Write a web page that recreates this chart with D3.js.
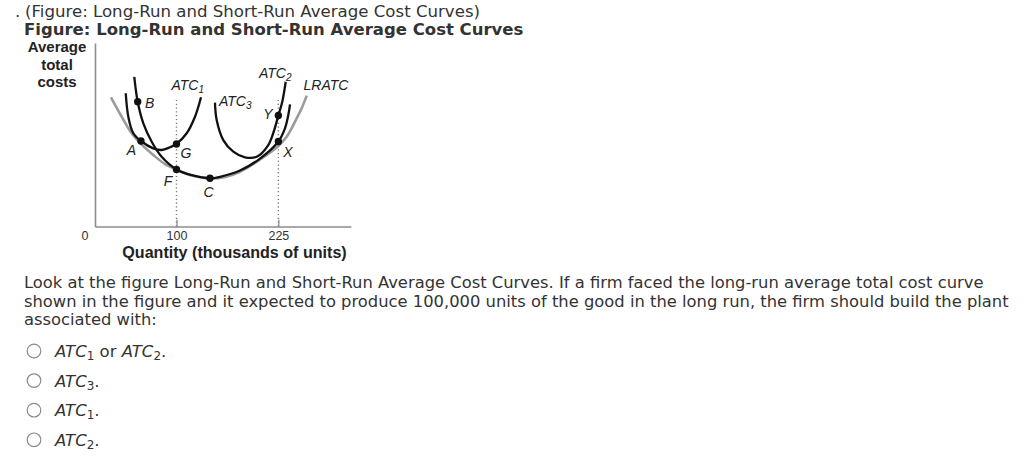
<!DOCTYPE html>
<html>
<head>
<meta charset="utf-8">
<script src="https://cdn.jsdelivr.net/npm/d3@7"></script>
<style>
  body { margin: 0; background: #fff; }
  .page { font-family: "DejaVu Sans", Verdana, sans-serif; }
  .fig { font-family: "Liberation Sans", Arial, sans-serif; }
</style>
</head>
<body>
<div class="chart"></div>
<script>
// quantity in thousands of units, cost in chart units (top of y axis = 100)
let lratcQty  = [19.6, 32.8, 45.0, 56.4, 71.5, 85.9, 100, 118.7, 141, 160, 177.9, 202.5, 225, 235.2, 241.3, 247.5, 253.6, 259.8];
let lratcCost = [70.4, 59.8, 50.8, 45.0, 39.0, 34.0, 31.0, 27.8, 26.2, 27.0, 29.8, 36.5, 43.9, 48.9, 53.5, 59.0, 64.4, 71.3];

let atc1Qty  = [37.7, 40.9, 47.0, 56.4, 71.5, 81.8, 92.0, 100, 112.5, 122.7, 130.1];
let atc1Cost = [72.6, 59.8, 50.8, 46.6, 42.6, 41.7, 43.2, 45.0, 50.8, 59.8, 70.4];

let atc2Qty  = [48.2, 52.4, 59.3, 69.6, 81.8, 100, 118.7, 141.1, 153.4, 177.9, 202.5, 225, 233.1, 237.2, 239.3];
let atc2Cost = [81.6, 68.0, 56.2, 46.2, 38.0, 31.1, 28.0, 26.3, 27.1, 30.5, 37.0, 46.3, 53.5, 60.8, 66.6];

let atc3Qty  = [147.2, 149.3, 157.4, 169.7, 184.0, 198.4, 212.6, 219.3, 225, 229.8, 234.0];
let atc3Cost = [67.5, 58.0, 47.1, 40.8, 37.7, 38.0, 44.4, 51.7, 60.5, 68.0, 78.9];

let pointNames = ["A", "B", "G", "F", "C", "X", "Y"];
let pointQty   = [56.4, 52.4, 100, 100, 141.1, 225, 225];
let pointCost  = [46.6, 68.0, 45.0, 31.1, 26.3, 46.3, 60.5];

let tickValues = [100, 225];
let guideTop = [70.4, 69.3];

let yLabelLines = ["Average", "total", "costs"];
let xLabel = "Quantity (thousands of units)";

let headLine = "(Figure: Long-Run and Short-Run Average Cost Curves)";
let figTitle = "Figure: Long-Run and Short-Run Average Cost Curves";
let questionLines = [
  "Look at the figure Long-Run and Short-Run Average Cost Curves. If a firm faced the long-run average total cost curve",
  "shown in the figure and it expected to produce 100,000 units of the good in the long run, the firm should build the plant",
  "associated with:"
];
let options = ["ATC1 or ATC2.", "ATC3.", "ATC1.", "ATC2."];

let svgWidth = 1024;
let svgHeight = 462;

let svg = d3.select(".chart")
  .append("svg")
  .attr("width", svgWidth)
  .attr("height", svgHeight);

// header text
let page = svg.append("g").attr("class", "page").attr("fill", "#333");
page.append("text").attr("x", 15).attr("y", 17).attr("font-size", 16.5).text(".");
page.append("text").attr("x", 25).attr("y", 17).attr("font-size", 16.6).text(headLine);
page.append("text").attr("x", 24).attr("y", 35).attr("font-size", 16.5)
  .attr("font-weight", "bold").text(figTitle);

// chart
let xScale = d3.scaleLinear().domain([0, 314]).range([95, 350.9]);
let yScale = d3.scaleLinear().domain([0, 100]).range([226.5, 43]);

let fig = svg.append("g").attr("class", "fig");

let xAxis = fig.append("g")
  .attr("transform", `translate(0, ${yScale(0)})`)
  .call(d3.axisBottom(xScale).tickValues(tickValues).tickSize(-7).tickSizeOuter(0).tickPadding(4.5));
let yAxis = fig.append("g")
  .attr("transform", `translate(${xScale(0)}, 0)`)
  .call(d3.axisLeft(yScale).tickValues([]).tickSizeOuter(0));

[xAxis, yAxis].forEach(function(ax) {
  ax.attr("font-family", null).attr("font-size", null);
  ax.select(".domain").attr("stroke", "#8c8c8c").attr("stroke-width", 1.6);
  ax.selectAll(".tick line").attr("stroke", "#8c8c8c").attr("stroke-width", 1.2);
  ax.selectAll(".tick text").attr("fill", "#333").attr("font-size", 12.5);
});

fig.append("text")
  .attr("x", xScale(0) - 10).attr("y", 240)
  .attr("text-anchor", "middle").attr("font-size", 12.5).attr("fill", "#333")
  .text("0");

// dotted guides
fig.selectAll(".guide")
  .data(tickValues)
  .enter()
  .append("line")
  .attr("class", "guide")
  .attr("x1", d => xScale(d)).attr("x2", d => xScale(d))
  .attr("y1", yScale(0)).attr("y2", (d, i) => yScale(guideTop[i]))
  .attr("stroke", "#7a7a7a").attr("stroke-width", 1.4)
  .attr("stroke-dasharray", "1.2,2.6");

let line = d3.line()
  .x(d => xScale(d[0]))
  .y(d => yScale(d[1]))
  .curve(d3.curveCatmullRom.alpha(0.5));

fig.append("path")
  .datum(d3.zip(lratcQty, lratcCost))
  .attr("d", line)
  .attr("fill", "none").attr("stroke", "#9b9b9b").attr("stroke-width", 2.6);

[[atc1Qty, atc1Cost], [atc2Qty, atc2Cost], [atc3Qty, atc3Cost]].forEach(function(c) {
  fig.append("path")
    .datum(d3.zip(c[0], c[1]))
    .attr("d", line)
    .attr("fill", "none").attr("stroke", "#111").attr("stroke-width", 2.3);
});

// points
let pts = pointNames.map((n, i) => ({ name: n, q: pointQty[i], c: pointCost[i] }));
fig.selectAll(".pt")
  .data(pts)
  .enter()
  .append("circle")
  .attr("class", "pt")
  .attr("cx", d => xScale(d.q))
  .attr("cy", d => yScale(d.c))
  .attr("r", 3.7)
  .attr("fill", "#111");

// label offsets from each point
let offsets = { A: [-9.5, 14], B: [12, 6], G: [9.5, 14], F: [-8.5, 17], C: [-1.5, 18.5], X: [9.5, 15], Y: [-10.5, 3.5] };
fig.selectAll(".ptlabel")
  .data(pts)
  .enter()
  .append("text")
  .attr("class", "ptlabel")
  .attr("x", d => xScale(d.q) + offsets[d.name][0])
  .attr("y", d => yScale(d.c) + offsets[d.name][1])
  .attr("text-anchor", "middle")
  .attr("font-size", 14).attr("font-style", "italic").attr("fill", "#222")
  .text(d => d.name);

// curve names
function curveLabel(x, y, name) {
  let t = fig.append("text")
    .attr("x", x).attr("y", y)
    .attr("font-size", 14).attr("font-style", "italic").attr("fill", "#222");
  let m = name.match(/^(\D+)(\d?)$/);
  t.append("tspan").text(m[1]);
  if (m[2]) t.append("tspan").attr("font-size", 10).attr("dy", 3).text(m[2]);
}
curveLabel(171.5, 90, "ATC1");
curveLabel(219, 106, "ATC3");
curveLabel(259, 78, "ATC2");
curveLabel(303.5, 90, "LRATC");

// axis titles
fig.selectAll(".ylab")
  .data(yLabelLines)
  .enter()
  .append("text")
  .attr("class", "ylab")
  .attr("x", 57)
  .attr("y", (d, i) => 52 + i * 17.5)
  .attr("text-anchor", "middle")
  .attr("font-size", 15).attr("font-weight", "bold").attr("fill", "#222")
  .text(d => d);

fig.append("text")
  .attr("x", 234.5).attr("y", 258)
  .attr("text-anchor", "middle")
  .attr("font-size", 16.1).attr("font-weight", "bold").attr("fill", "#222")
  .text(xLabel);

// question
page.selectAll(".q")
  .data(questionLines)
  .enter()
  .append("text")
  .attr("class", "q")
  .attr("x", 24)
  .attr("y", (d, i) => 288 + i * 18.5)
  .attr("font-size", 16.35)
  .text(d => d);

// answer options
let opt = page.selectAll(".opt")
  .data(options)
  .enter()
  .append("g")
  .attr("class", "opt")
  .attr("transform", (d, i) => `translate(0, ${351 + i * 29.6})`);

opt.append("circle")
  .attr("cx", 34).attr("cy", 0).attr("r", 6.8)
  .attr("fill", "#fff").attr("stroke", "#8a8a8a").attr("stroke-width", 1.2);

opt.each(function(d) {
  let t = d3.select(this).append("text")
    .attr("x", 55).attr("y", 6).attr("font-size", 16.5);
  let shift = 0;
  d.split(/(ATC\d)/).filter(s => s.length).forEach(function(s) {
    let m = s.match(/^ATC(\d)$/);
    if (m) {
      t.append("tspan").attr("font-style", "italic").attr("dy", -shift).text("ATC");
      t.append("tspan").attr("font-size", 12).attr("dy", 3).text(m[1]);
      shift = 3;
    } else {
      t.append("tspan").attr("dy", -shift).text(s);
      shift = 0;
    }
  });
});
</script>
</body>
</html>
